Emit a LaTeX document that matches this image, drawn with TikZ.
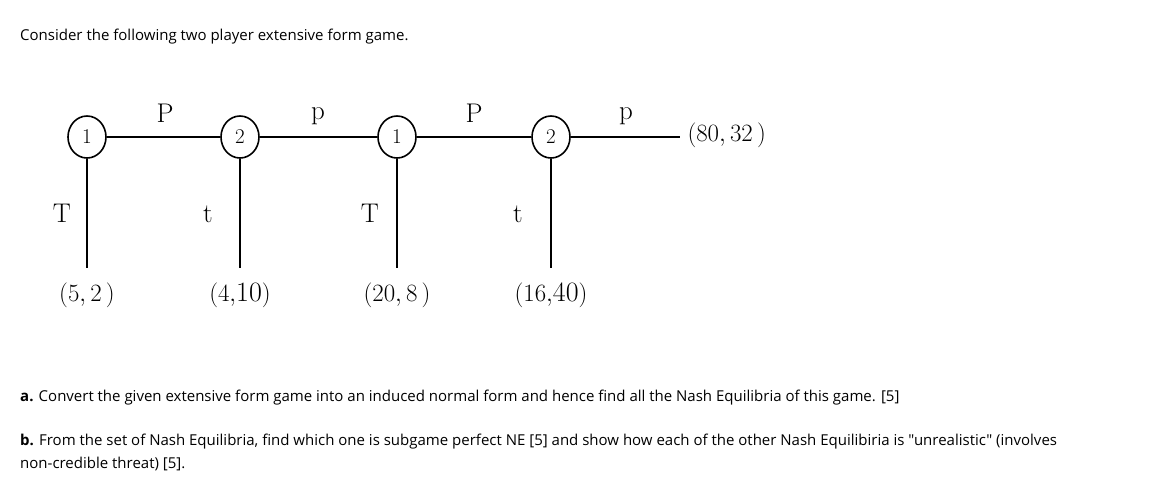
\documentclass[tikz,border=0pt]{standalone}
\usepackage{fontspec}
\usetikzlibrary{shapes.geometric}
\newfontfamily\uifont{Open Sans}
\begin{document}
\begin{tikzpicture}[x=1pt,y=-1pt,
  dn/.style={draw,line width=1.6pt,ellipse,minimum width=38pt,minimum height=42pt,inner sep=0pt,font=\fontsize{21}{23}\selectfont},
  lab/.style={font=\fontsize{27}{29}\selectfont},
  pay/.style={font=\fontsize{28}{30}\selectfont},
  txt/.style={anchor=west,font=\uifont\fontsize{15}{18}\selectfont,inner sep=0pt},
  edge/.style={line width=1.6pt}]
\useasboundingbox (0,0) rectangle (1156,485);
\node[txt] (t0) at (20,37) {Consider the following two player extensive form game.};
\node[dn] (n1) at (87,137) {1};
\node[dn] (n2) at (240,137) {2};
\node[dn] (n3) at (397,137) {1};
\node[dn] (n4) at (551,137) {2};
\coordinate (e5) at (680,137);
\node[pay,anchor=west] (p5) at (684,135) {$(80,32\,)$};
\node[pay] (p1) at (87,295) {$(5,2\,)$};
\node[pay] (p2) at (240,295) {$(4,$10$)$};
\node[pay] (p3) at (397,295) {$(20,8\,)$};
\node[pay] (p4) at (551,295) {$(16,$40$)$};
\coordinate (b1) at (87,268);
\coordinate (b2) at (240,268);
\coordinate (b3) at (397,268);
\coordinate (b4) at (551,268);
\draw[edge] (n1) -- (n2);
\draw[edge] (n2) -- (n3);
\draw[edge] (n3) -- (n4);
\draw[edge] (n4) -- (e5);
\draw[edge] (n1) -- (b1);
\draw[edge] (n2) -- (b2);
\draw[edge] (n3) -- (b3);
\draw[edge] (n4) -- (b4);
\node[lab] (l1) at (165,113) {P};
\node[lab] (l2) at (318,116) {p};
\node[lab] (l3) at (474,113) {P};
\node[lab] (l4) at (626,116) {p};
\node[lab] (v1) at (62,213) {T};
\node[lab] (v2) at (208,214) {t};
\node[lab] (v3) at (370,213) {T};
\node[lab] (v4) at (518,214) {t};
\node[txt] (ta) at (20,398) {\textbf{a.} Convert the given extensive form game into an induced normal form and hence find all the Nash Equilibria of this game. [5]};
\node[txt] (tb) at (20,442) {\textbf{b.} From the set of Nash Equilibria, find which one is subgame perfect NE [5] and show how each of the other Nash Equilibiria is "unrealistic" (involves};
\node[txt] (tc) at (20,464) {non-credible threat) [5].};
\end{tikzpicture}
\end{document}
